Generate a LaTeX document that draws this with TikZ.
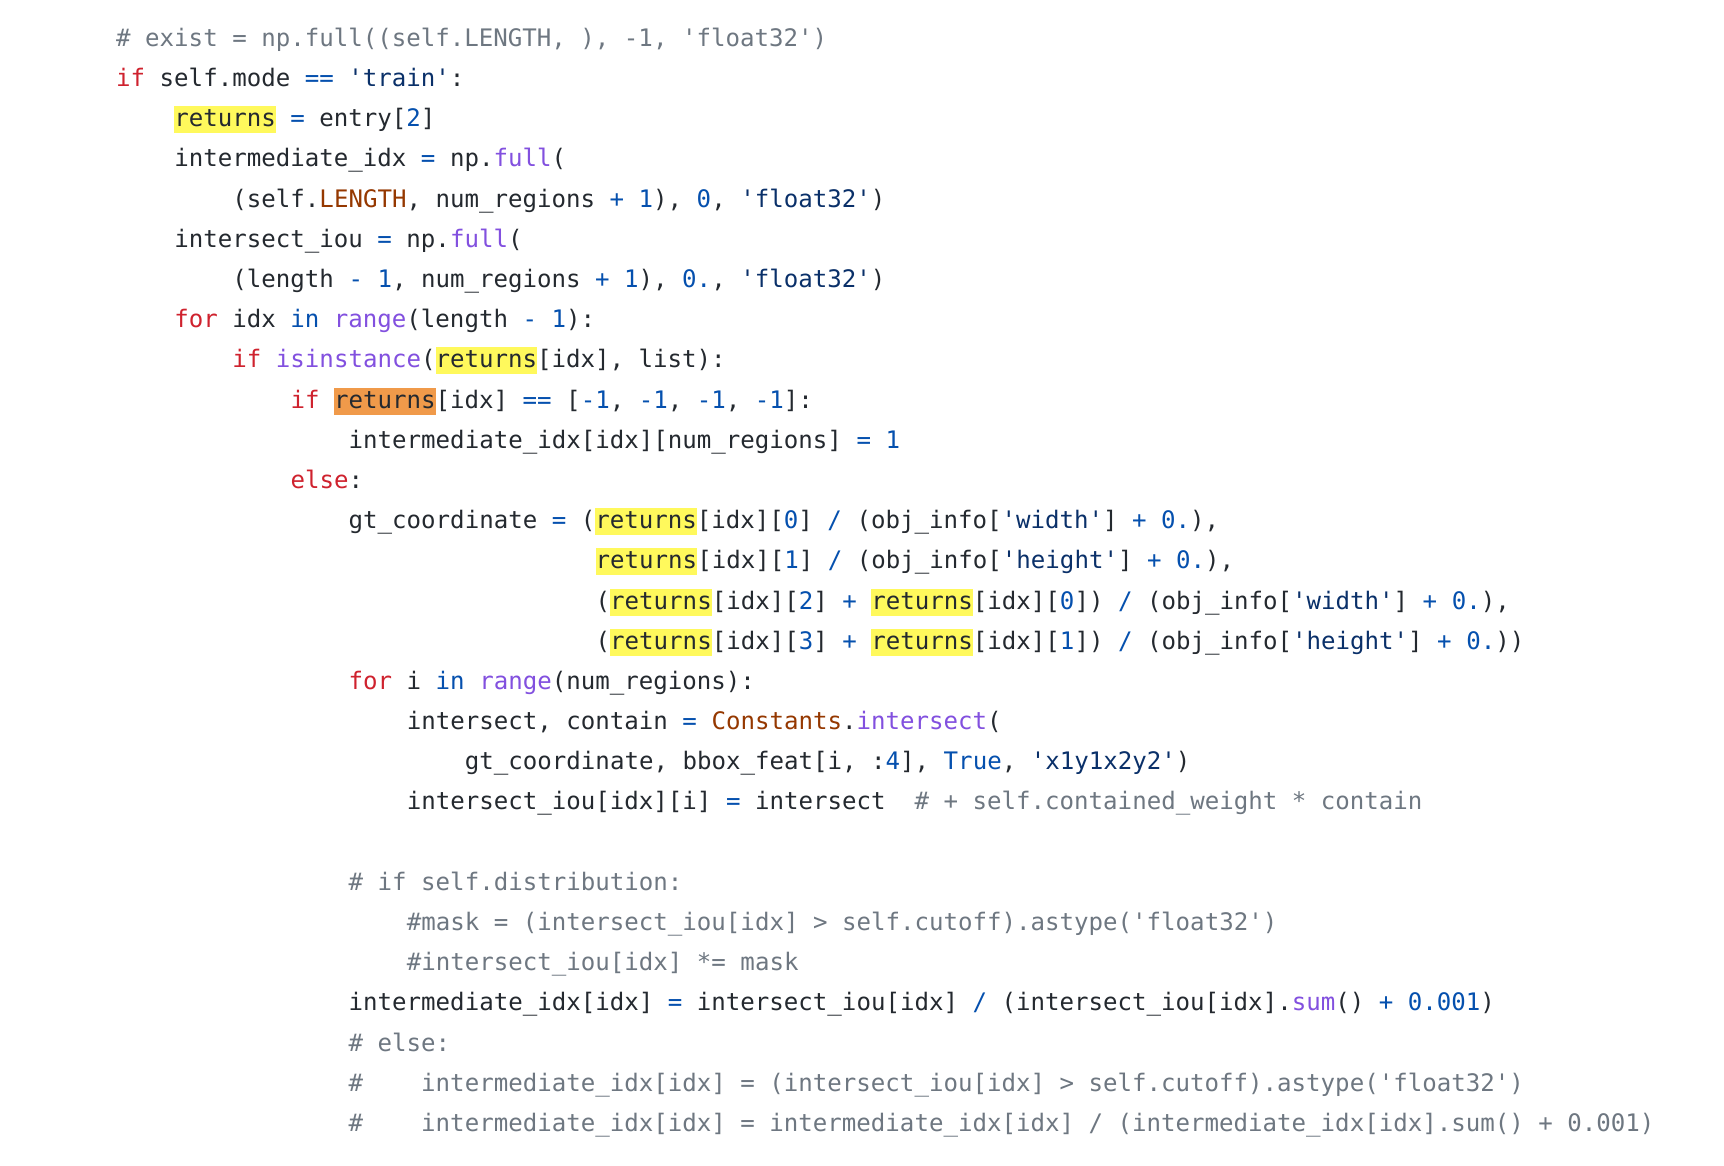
\documentclass[tikz,border=0pt]{standalone}
\usepackage{fontspec}
\setmonofont{DejaVu Sans Mono}
\definecolor{kw}{HTML}{CF222E}
\definecolor{op}{HTML}{0550AE}
\definecolor{st}{HTML}{0A3069}
\definecolor{fn}{HTML}{8250DF}
\definecolor{br}{HTML}{953800}
\definecolor{cm}{HTML}{6E7781}
\definecolor{tx}{HTML}{24292F}
\definecolor{hly}{HTML}{FFF95C}
\definecolor{hlo}{HTML}{F09A4A}
\newcommand\kw[1]{\textcolor{kw}{#1}}
\newcommand\op[1]{\textcolor{op}{#1}}
\newcommand\nm[1]{\textcolor{op}{#1}}
\newcommand\st[1]{\textcolor{st}{#1}}
\newcommand\fn[1]{\textcolor{fn}{#1}}
\newcommand\br[1]{\textcolor{br}{#1}}
\newcommand\cm[1]{\textcolor{cm}{#1}}
\newcommand\SP{\hphantom{x}}
\newcommand\hl{{\setlength\fboxsep{0pt}\colorbox{hly}{\rule[-0.27em]{0pt}{1.12em}returns}}}
\newcommand\ho{{\setlength\fboxsep{0pt}\colorbox{hlo}{\rule[-0.27em]{0pt}{1.12em}returns}}}
\begin{document}
\begin{tikzpicture}[x=1pt,y=-1pt,
  ln/.style={anchor=mid west,inner sep=0pt,text=tx,font=\ttfamily\fontsize{24.1}{29}\selectfont}]
\useasboundingbox[fill=white] (0,0) rectangle (1724,1166);
\def\X#1{116+14.53*#1}
\def\Y#1{44.2+40.19*#1}
\node[ln] (l0) at ({\X{0}},{\Y{0}}) {\cm{\# exist = np.full((self.LENGTH, ), -1, 'float32')}};
\node[ln] (l1) at ({\X{0}},{\Y{1}}) {\kw{if} self.mode \op{==} \st{'train'}:};
\node[ln] (l2) at ({\X{4}},{\Y{2}}) {\hl{} \op{=} entry[\nm{2}]};
\node[ln] (l3) at ({\X{4}},{\Y{3}}) {intermediate\_idx \op{=} np.\fn{full}(};
\node[ln] (l4) at ({\X{8}},{\Y{4}}) {(self.\br{LENGTH}, num\_regions \op{+} \nm{1}), \nm{0}, \st{'float32'})};
\node[ln] (l5) at ({\X{4}},{\Y{5}}) {intersect\_iou \op{=} np.\fn{full}(};
\node[ln] (l6) at ({\X{8}},{\Y{6}}) {(length \op{-} \nm{1}, num\_regions \op{+} \nm{1}), \nm{0.}, \st{'float32'})};
\node[ln] (l7) at ({\X{4}},{\Y{7}}) {\kw{for} idx \op{in} \fn{range}(length \op{-} \nm{1}):};
\node[ln] (l8) at ({\X{8}},{\Y{8}}) {\kw{if} \fn{isinstance}(\hl[idx], list):};
\node[ln] (l9) at ({\X{12}},{\Y{9}}) {\kw{if} \ho[idx] \op{==} [\nm{-1}, \nm{-1}, \nm{-1}, \nm{-1}]:};
\node[ln] (l10) at ({\X{16}},{\Y{10}}) {intermediate\_idx[idx][num\_regions] \op{=} \nm{1}};
\node[ln] (l11) at ({\X{12}},{\Y{11}}) {\kw{else}:};
\node[ln] (l12) at ({\X{16}},{\Y{12}}) {gt\_coordinate \op{=} (\hl[idx][\nm{0}] \op{/} (obj\_info[\st{'width'}] \op{+} \nm{0.}),};
\node[ln] (l13) at ({\X{33}},{\Y{13}}) {\hl[idx][\nm{1}] \op{/} (obj\_info[\st{'height'}] \op{+} \nm{0.}),};
\node[ln] (l14) at ({\X{33}},{\Y{14}}) {(\hl[idx][\nm{2}] \op{+} \hl[idx][\nm{0}]) \op{/} (obj\_info[\st{'width'}] \op{+} \nm{0.}),};
\node[ln] (l15) at ({\X{33}},{\Y{15}}) {(\hl[idx][\nm{3}] \op{+} \hl[idx][\nm{1}]) \op{/} (obj\_info[\st{'height'}] \op{+} \nm{0.}))};
\node[ln] (l16) at ({\X{16}},{\Y{16}}) {\kw{for} i \op{in} \fn{range}(num\_regions):};
\node[ln] (l17) at ({\X{20}},{\Y{17}}) {intersect, contain \op{=} \br{Constants}.\fn{intersect}(};
\node[ln] (l18) at ({\X{24}},{\Y{18}}) {gt\_coordinate, bbox\_feat[i, :\nm{4}], \nm{True}, \st{'x1y1x2y2'})};
\node[ln] (l19) at ({\X{20}},{\Y{19}}) {intersect\_iou[idx][i] \op{=} intersect\SP\SP\cm{\# + self.contained\_weight * contain}};
\node[ln] (l21) at ({\X{16}},{\Y{21}}) {\cm{\# if self.distribution:}};
\node[ln] (l22) at ({\X{20}},{\Y{22}}) {\cm{\#mask = (intersect\_iou[idx] > self.cutoff).astype('float32')}};
\node[ln] (l23) at ({\X{20}},{\Y{23}}) {\cm{\#intersect\_iou[idx] *= mask}};
\node[ln] (l24) at ({\X{16}},{\Y{24}}) {intermediate\_idx[idx] \op{=} intersect\_iou[idx] \op{/} (intersect\_iou[idx].\fn{sum}() \op{+} \nm{0.001})};
\node[ln] (l25) at ({\X{16}},{\Y{25}}) {\cm{\# else:}};
\node[ln] (l26) at ({\X{16}},{\Y{26}}) {\cm{\#\SP\SP\SP\SP intermediate\_idx[idx] = (intersect\_iou[idx] > self.cutoff).astype('float32')}};
\node[ln] (l27) at ({\X{16}},{\Y{27}}) {\cm{\#\SP\SP\SP\SP intermediate\_idx[idx] = intermediate\_idx[idx] / (intermediate\_idx[idx].sum() + 0.001)}};
\end{tikzpicture}
\end{document}
